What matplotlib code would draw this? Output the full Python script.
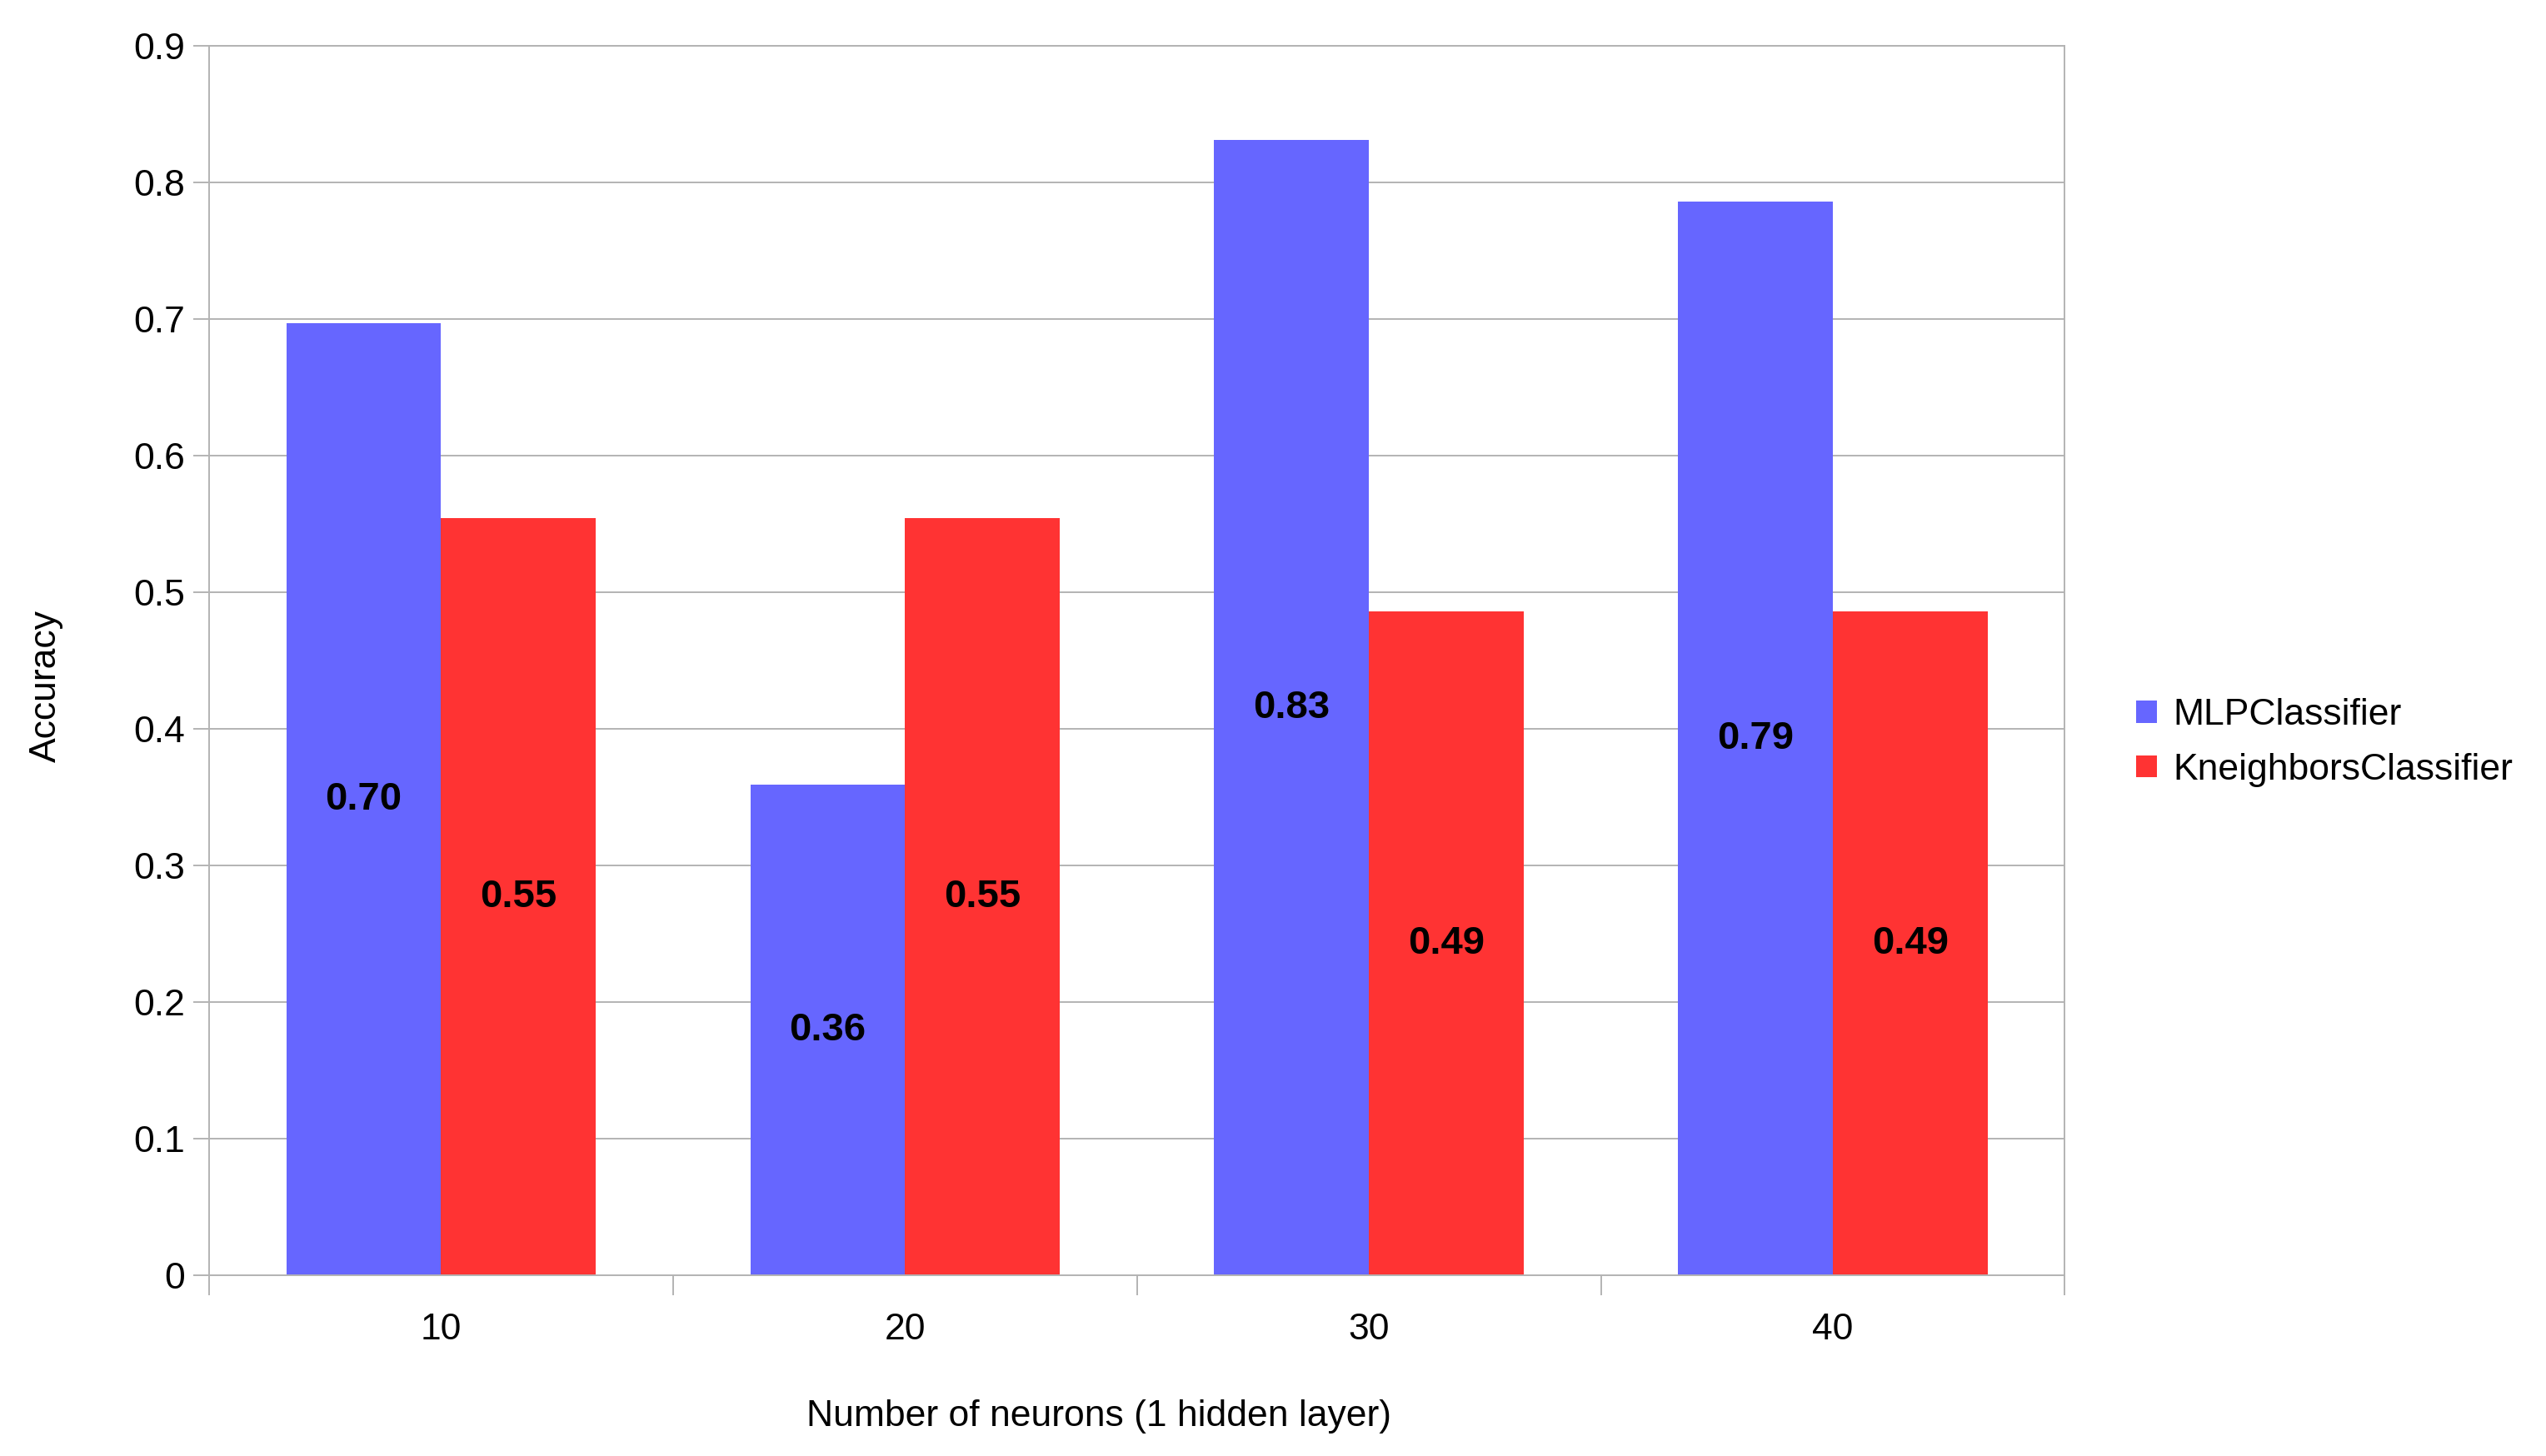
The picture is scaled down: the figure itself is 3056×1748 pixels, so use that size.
import matplotlib.pyplot as plt
import numpy as np

plt.rcParams['font.family'] = ['Liberation Sans', 'DejaVu Sans']

# data
neurons = ['10', '20', '30', '40']
mlp_acc = [0.697, 0.359, 0.831, 0.786]
knn_acc = [0.554, 0.554, 0.486, 0.486]
mlp_labels = ['0.70', '0.36', '0.83', '0.79']
knn_labels = ['0.55', '0.55', '0.49', '0.49']
y_ticks = [0, 0.1, 0.2, 0.3, 0.4, 0.5, 0.6, 0.7, 0.8, 0.9]
y_ticklabels = ['0', '0.1', '0.2', '0.3', '0.4', '0.5', '0.6', '0.7', '0.8', '0.9']

blue = '#6666ff'
red = '#ff3333'
grid_c = '#b3b3b3'

fig = plt.figure(figsize=(15.28, 8.74), dpi=200)
ax = fig.add_axes([0.0821, 0.124, 0.811 - 0.0821, 0.9686 - 0.124])

x = np.arange(len(neurons))
w = 1 / 3
b1 = ax.bar(x - w / 2, mlp_acc, width=w, color=blue, label='MLPClassifier', zorder=2)
b2 = ax.bar(x + w / 2, knn_acc, width=w, color=red, label='KneighborsClassifier', zorder=2)

# value labels in the middle of each bar
for rect, lab in zip(b1, mlp_labels):
    ax.text(rect.get_x() + rect.get_width() / 2, rect.get_height() / 2, lab,
            ha='center', va='center', fontsize=17, fontweight='bold', zorder=3)
for rect, lab in zip(b2, knn_labels):
    ax.text(rect.get_x() + rect.get_width() / 2, rect.get_height() / 2, lab,
            ha='center', va='center', fontsize=17, fontweight='bold', zorder=3)

ax.set_xlim(-0.5, len(neurons) - 0.5)
ax.set_ylim(0, 0.9)

ax.set_yticks(y_ticks)
ax.set_yticklabels(y_ticklabels)
ax.tick_params(axis='y', length=7, width=0.7, color=grid_c, pad=3.5, labelsize=16)

ax.set_xticks(x)
ax.set_xticklabels(neurons)
ax.tick_params(axis='x', which='major', length=0, pad=16, labelsize=16)
ax.set_xticks(np.arange(len(neurons) + 1) - 0.5, minor=True)
ax.tick_params(axis='x', which='minor', length=8.5, width=0.7, color=grid_c)

ax.yaxis.grid(True, color=grid_c, linewidth=0.7, zorder=0)
ax.set_axisbelow(True)
for s in ax.spines.values():
    s.set_color(grid_c)
    s.set_linewidth(0.7)

fig.text(0.018, 0.529, 'Accuracy', rotation=90, ha='center', va='center', fontsize=16)
fig.text(0.4315, 0.0272, 'Number of neurons (1 hidden layer)', ha='center', va='center', fontsize=16)

fig.legend(handles=[b1, b2], loc='center left', bbox_to_anchor=(0.826, 0.49),
           frameon=False, fontsize=16, handlelength=0.55, handleheight=0.55,
           handletextpad=0.45, labelspacing=0.55)

plt.savefig('out.png', dpi=200)
